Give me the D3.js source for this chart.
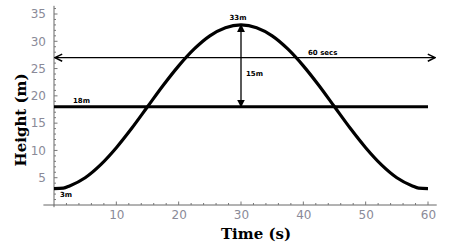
<!DOCTYPE html>
<html>
<head>
<meta charset="utf-8">
<script src="https://cdn.jsdelivr.net/npm/d3@7"></script>
<style>
  body { margin: 0; background: #fff; }
  svg { display: block; }
</style>
</head>
<body>
<div id="chart"></div>
<script>
// height of a seat over one turn
var times   = [0, 1.5, 2.5, 5, 7.5, 10, 12.5, 15, 17.5, 20, 22.5, 25, 27.5, 30, 32.5, 35, 37.5, 40, 42.5, 45, 47.5, 50, 52.5, 55, 57.5, 58.5, 60];
var heights = [3, 3.1, 3.5, 5, 7.4, 10.5, 14.1, 18, 21.9, 25.5, 28.6, 31, 32.5, 33, 32.5, 31, 28.6, 25.5, 21.9, 18, 14.1, 10.5, 7.4, 5, 3.5, 3.1, 3];
var xTicks = [10, 20, 30, 40, 50, 60];
var yTicks = [5, 10, 15, 20, 25, 30, 35];
var midLine = 18, topH = 33, lowH = 3, periodY = 27, period = 60;

var width = 450, height = 248;

var svg = d3.select("#chart").append("svg")
    .attr("width", width)
    .attr("height", height);

var defs = svg.append("defs");
// open chevron head for the period arrow
defs.append("marker")
    .attr("id", "openHead")
    .attr("viewBox", "0 0 10 10")
    .attr("refX", 9).attr("refY", 5)
    .attr("markerWidth", 9).attr("markerHeight", 9)
    .attr("markerUnits", "userSpaceOnUse")
    .attr("orient", "auto-start-reverse")
    .append("path")
    .attr("d", "M1,1 L9,5 L1,9")
    .attr("fill", "none")
    .attr("stroke", "#000")
    .attr("stroke-width", 1.6);
// filled head for the amplitude arrow
defs.append("marker")
    .attr("id", "fillHead")
    .attr("viewBox", "0 0 10 10")
    .attr("refX", 9).attr("refY", 5)
    .attr("markerWidth", 8).attr("markerHeight", 8)
    .attr("markerUnits", "userSpaceOnUse")
    .attr("orient", "auto-start-reverse")
    .append("path")
    .attr("d", "M0,0 L10,5 L0,10 Z")
    .attr("fill", "#000");

var x = d3.scaleLinear().domain([0, 60]).range([54, 428]);
var y = d3.scaleLinear().domain([0, 35]).range([205, 14]);

// axis lines
svg.append("line")
    .attr("x1", x(-1.7)).attr("x2", x(61.4))
    .attr("y1", y(0)).attr("y2", y(0))
    .attr("stroke", "#666").attr("stroke-width", 1);
svg.append("line")
    .attr("x1", x(0)).attr("x2", x(0))
    .attr("y1", y(36.5)).attr("y2", y(-0.4))
    .attr("stroke", "#666").attr("stroke-width", 1);

// minor ticks
svg.append("g").selectAll("line")
    .data(d3.range(2, 61, 2))
    .enter().append("line")
    .attr("x1", function(d) { return x(d); })
    .attr("x2", function(d) { return x(d); })
    .attr("y1", y(0)).attr("y2", function(d) { return y(0) - (d % 10 == 0 ? 3.5 : 2); })
    .attr("stroke", "#777");
svg.append("g").selectAll("line")
    .data(d3.range(1, 37, 1))
    .enter().append("line")
    .attr("y1", function(d) { return y(d); })
    .attr("y2", function(d) { return y(d); })
    .attr("x1", x(0)).attr("x2", function(d) { return x(0) + (d % 5 == 0 ? 3.5 : 2); })
    .attr("stroke", "#777");

// tick labels through d3 axes
var xAxis = d3.axisBottom(x).tickValues(xTicks).tickSize(0).tickPadding(5);
var yAxis = d3.axisLeft(y).tickValues(yTicks).tickSize(0).tickPadding(8);

svg.append("g")
    .attr("transform", "translate(0," + y(0) + ")")
    .call(xAxis)
    .call(function(g) { g.select(".domain").remove(); })
    .selectAll("text")
    .style("font-family", "'DejaVu Sans', sans-serif")
    .style("font-size", "12px")
    .style("fill", "#8a8a98");

svg.append("g")
    .attr("transform", "translate(" + x(0) + ",0)")
    .call(yAxis)
    .call(function(g) { g.select(".domain").remove(); })
    .selectAll("text")
    .style("font-family", "'DejaVu Sans', sans-serif")
    .style("font-size", "12px")
    .style("fill", "#8a8a98");

// axis titles
svg.append("text")
    .attr("x", 256).attr("y", 239)
    .attr("text-anchor", "middle")
    .style("font-family", "'DejaVu Serif', serif")
    .style("font-weight", "bold")
    .style("font-size", "15px")
    .text("Time (s)");

svg.append("text")
    .attr("transform", "translate(26,120) rotate(-90)")
    .attr("text-anchor", "middle")
    .style("font-family", "'DejaVu Serif', serif")
    .style("font-weight", "bold")
    .style("font-size", "15px")
    .text("Height (m)");

// midline at 18 m
svg.append("line")
    .attr("x1", x(0)).attr("x2", x(60))
    .attr("y1", y(midLine)).attr("y2", y(midLine))
    .attr("stroke", "#000").attr("stroke-width", 3);

// period arrow
svg.append("line")
    .attr("x1", x(0) + 1).attr("x2", x(period) + 7)
    .attr("y1", y(periodY)).attr("y2", y(periodY))
    .attr("stroke", "#000").attr("stroke-width", 1.3)
    .attr("marker-start", "url(#openHead)")
    .attr("marker-end", "url(#openHead)");

// amplitude arrow
svg.append("line")
    .attr("x1", x(30)).attr("x2", x(30))
    .attr("y1", y(topH)).attr("y2", y(midLine))
    .attr("stroke", "#000").attr("stroke-width", 1.3)
    .attr("marker-start", "url(#fillHead)")
    .attr("marker-end", "url(#fillHead)");

// height curve
var pts = times.map(function(t, i) { return [t, heights[i]]; });
var line = d3.line()
    .x(function(d) { return x(d[0]); })
    .y(function(d) { return y(d[1]); })
    .curve(d3.curveMonotoneX);

svg.append("path")
    .datum(pts)
    .attr("d", line)
    .attr("fill", "none")
    .attr("stroke", "#000")
    .attr("stroke-width", 3.2)
    .attr("stroke-linejoin", "round");

// small annotations
var notes = [
    {text: "33m", x: 238, y: 20, anchor: "middle"},
    {text: "15m", x: 246, y: 76, anchor: "start"},
    {text: "18m", x: 73, y: 103, anchor: "start"},
    {text: "60 secs", x: 308, y: 55, anchor: "start"},
    {text: "3m", x: 60, y: 197, anchor: "start"}
];
svg.append("g").selectAll("text")
    .data(notes)
    .enter().append("text")
    .attr("x", function(d) { return d.x; })
    .attr("y", function(d) { return d.y; })
    .attr("text-anchor", function(d) { return d.anchor; })
    .style("font-family", "'DejaVu Sans', sans-serif")
    .style("font-weight", "bold")
    .style("font-size", "7px")
    .text(function(d) { return d.text; });
</script>
</body>
</html>
